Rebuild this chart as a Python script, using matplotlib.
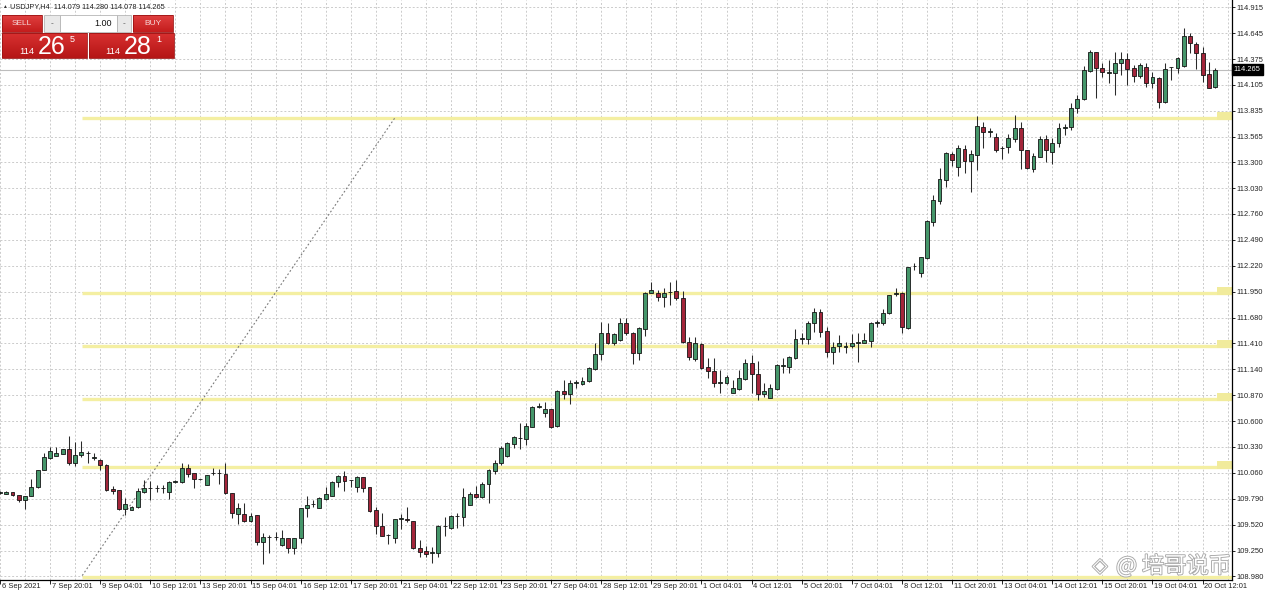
import matplotlib
matplotlib.use("Agg")
import matplotlib.pyplot as plt
import matplotlib.transforms as mtransforms
import matplotlib.patheffects as pe
from matplotlib.patches import Rectangle
import numpy as np

plt.rcParams['font.family'] = ['Liberation Sans', 'DejaVu Sans']

# ---------------- data ----------------
symbol = "USDJPY,H4"
last_ohlc = [114.079, 114.280, 114.078, 114.265]
bid_price = 114.265
ask_price = 114.281
lot_size = "1.00"

opens = [
    109.847, 109.840, 109.860, 109.826, 109.777, 109.819, 109.909, 110.090, 110.215, 110.236,
    110.257, 110.306, 110.160, 110.243, 110.272, 110.215, 110.194, 110.145, 109.888, 109.881,
    109.680, 109.673, 109.701, 109.864, 109.903, 109.906, 109.903, 109.864, 109.968, 109.962,
    110.114, 110.055, 109.993, 109.933, 110.055, 110.058, 110.048, 109.847, 109.631, 109.628,
    109.558, 109.621, 109.342, 109.388, 109.391, 109.308, 109.378, 109.273, 109.378, 109.690,
    109.735, 109.694,
    109.787, 109.819, 109.962, 110.030, 109.986, 109.909, 110.014, 109.909, 109.673, 109.506,
    109.412, 109.384, 109.584, 109.576, 109.558, 109.273, 109.245, 109.228, 109.228, 109.506,
    109.488, 109.610, 109.597, 109.728, 109.840, 109.805, 109.944, 110.083, 110.166, 110.236,
    110.361, 110.420, 110.410, 110.542, 110.750, 110.688, 110.723, 110.549, 110.914, 110.883,
    111.000, 110.984, 111.018, 111.143, 111.297, 111.516, 111.411, 111.446, 111.626, 111.516,
    111.313, 111.557, 111.939, 111.933, 111.897, 111.950, 111.960, 111.887, 111.428, 111.245,
    111.404, 111.161, 111.126, 111.000, 110.994, 110.896, 110.935, 111.039, 111.203, 111.091,
    110.883, 110.844, 110.935, 111.178, 111.161, 111.258, 111.460, 111.453, 111.626, 111.741,
    111.543, 111.324, 111.383, 111.376, 111.383, 111.418, 111.418, 111.439, 111.626, 111.620,
    111.724,
    111.930, 111.939, 111.568, 112.218, 112.141, 112.298, 112.680, 112.899, 113.115, 113.386,
    113.253, 113.438, 113.316, 113.375, 113.671, 113.618, 113.562, 113.445, 113.462, 113.539,
    113.653, 113.427, 113.229, 113.358, 113.539, 113.410, 113.497, 113.660,
    113.666, 113.868, 113.958, 114.250, 114.446, 114.285, 114.233, 114.226, 114.331, 114.376,
    114.285, 114.201, 114.295, 114.122, 114.181, 113.924, 114.289, 114.279, 114.306, 114.619,
    114.529, 114.435, 114.216, 114.079,
]
highs = [
    109.868, 109.868, 109.864, 109.830, 109.823, 109.993, 110.095, 110.264, 110.330, 110.330,
    110.311, 110.448, 110.385, 110.395, 110.285, 110.270, 110.200, 110.150, 109.923, 109.885,
    109.795, 109.712, 109.899, 109.986, 109.975, 109.933, 109.933, 109.972, 109.986, 110.160,
    110.150, 110.060, 110.000, 110.042, 110.108, 110.097, 110.167, 109.851, 109.749, 109.742,
    109.644, 109.625, 109.430, 109.412, 109.447, 109.464, 109.382, 109.382, 109.695, 109.819,
    109.777, 109.808,
    109.916, 109.972, 110.035, 110.079, 109.990, 110.025, 110.020, 109.915, 109.707, 109.644,
    109.423, 109.580, 109.631, 109.707, 109.562, 109.360, 109.301, 109.290, 109.516, 109.603,
    109.621, 109.644, 109.899, 109.857, 109.923, 109.968, 110.097, 110.194, 110.340, 110.385,
    110.445, 110.577, 110.577, 110.755, 110.785, 110.802, 110.727, 110.924, 111.029, 111.029,
    111.029, 111.057, 111.167, 111.418, 111.637, 111.626, 111.516, 111.678, 111.678, 111.532,
    111.578, 111.950, 112.054, 111.967, 111.985, 112.054, 112.072, 111.960, 111.480, 111.480,
    111.418, 111.255, 111.255, 111.133, 111.081, 111.029, 111.133, 111.245, 111.289, 111.230,
    110.994, 110.987, 111.196, 111.255, 111.279, 111.557, 111.516, 111.644, 111.776, 111.766,
    111.578, 111.428, 111.498, 111.428, 111.508, 111.516, 111.522, 111.637, 111.654, 111.766,
    111.920,
    111.985, 111.945, 112.210, 112.246, 112.313, 112.695, 112.958, 113.237, 113.410, 113.410,
    113.479, 113.479, 113.427, 113.782, 113.723, 113.656, 113.609, 113.469, 113.591, 113.792,
    113.723, 113.431, 113.393, 113.573, 113.583, 113.549, 113.705, 113.698,
    113.912, 114.000, 114.306, 114.470, 114.450, 114.331, 114.365, 114.446, 114.446, 114.435,
    114.313, 114.331, 114.331, 114.237, 114.190, 114.331, 114.295, 114.400, 114.696, 114.644,
    114.556, 114.504, 114.347, 114.280,
]
lows = [
    109.843, 109.836, 109.822, 109.753, 109.680, 109.815, 109.905, 110.085, 110.205, 110.232,
    110.252, 110.142, 110.132, 110.226, 110.167, 110.198, 110.090, 109.876, 109.840, 109.675,
    109.621, 109.668, 109.690, 109.847, 109.777, 109.864, 109.847, 109.784, 109.951, 109.958,
    110.020, 109.899, 109.988, 109.929, 110.038, 109.944, 109.843, 109.586, 109.527, 109.551,
    109.551, 109.308, 109.110, 109.222, 109.360, 109.298, 109.228, 109.214, 109.326, 109.603,
    109.701, 109.690,
    109.777, 109.815, 109.909, 109.871, 109.909, 109.864, 109.857, 109.657, 109.423, 109.398,
    109.318, 109.326, 109.471, 109.551, 109.268, 109.186, 109.186, 109.117, 109.186, 109.402,
    109.471, 109.488, 109.506, 109.725, 109.795, 109.795, 109.749, 110.048, 110.142, 110.222,
    110.316, 110.306, 110.351, 110.537, 110.733, 110.646, 110.526, 110.542, 110.827, 110.778,
    110.942, 110.976, 111.005, 111.133, 111.237, 111.404, 111.394, 111.439, 111.498, 111.195,
    111.237, 111.488, 111.933, 111.856, 111.793, 111.811, 111.863, 111.418, 111.237, 111.230,
    111.140, 111.046, 110.959, 110.896, 110.987, 110.890, 110.924, 111.029, 110.896, 110.820,
    110.854, 110.838, 110.924, 111.105, 111.098, 111.245, 111.404, 111.404, 111.532, 111.480,
    111.265, 111.195, 111.324, 111.307, 111.359, 111.219, 111.411, 111.376, 111.585, 111.602,
    111.720,
    111.905, 111.516, 111.560, 112.176, 112.106, 112.292, 112.635, 112.864, 113.038, 113.260,
    113.156, 113.187, 112.993, 113.219, 113.445, 113.562, 113.410, 113.330, 113.393, 113.513,
    113.226, 113.226, 113.201, 113.351, 113.302, 113.281, 113.462, 113.583,
    113.635, 113.809, 113.948, 114.243, 113.972, 114.191, 114.122, 114.000, 114.209, 114.104,
    114.139, 114.174, 114.087, 114.076, 113.868, 113.914, 114.157, 114.226, 114.295, 114.435,
    114.271, 114.139, 114.071, 114.078,
]
closes = [
    109.864, 109.864, 109.826, 109.777, 109.819, 109.916, 110.090, 110.222, 110.284, 110.264,
    110.306, 110.160, 110.249, 110.278, 110.270, 110.222, 110.142, 109.881, 109.874, 109.680,
    109.735, 109.707, 109.871, 109.899, 109.906, 109.903, 109.906, 109.968, 109.971, 110.114,
    110.048, 109.993, 109.996, 110.038, 110.058, 110.055, 109.847, 109.638, 109.690, 109.558,
    109.610, 109.342, 109.394, 109.391, 109.388, 109.378, 109.273, 109.378, 109.690, 109.725,
    109.738, 109.803,
    109.836, 109.968, 110.030, 109.975, 109.983, 110.020, 109.905, 109.662, 109.506, 109.402,
    109.409, 109.576, 109.587, 109.573, 109.273, 109.238, 109.210, 109.231, 109.506, 109.509,
    109.610, 109.613, 109.805, 109.840, 109.805, 109.944, 110.090, 110.166, 110.316, 110.369,
    110.431, 110.423, 110.549, 110.750, 110.753, 110.723, 110.542, 110.917, 110.883, 111.000,
    111.003, 111.018, 111.151, 111.297, 111.516, 111.411, 111.505, 111.626, 111.516, 111.313,
    111.568, 111.939, 111.967, 111.897, 111.939, 111.947, 111.881, 111.428, 111.265, 111.418,
    111.151, 111.126, 111.000, 111.003, 111.063, 110.942, 111.046, 111.203, 111.091, 110.883,
    110.917, 110.942, 111.185, 111.181, 111.265, 111.453, 111.463, 111.626, 111.741, 111.532,
    111.324, 111.376, 111.418, 111.379, 111.411, 111.421, 111.446, 111.620, 111.629, 111.724,
    111.915,
    111.933, 111.585, 112.204, 112.221, 112.308, 112.690, 112.906, 113.122, 113.393, 113.323,
    113.445, 113.316, 113.386, 113.678, 113.618, 113.621, 113.422, 113.448, 113.549, 113.653,
    113.427, 113.237, 113.365, 113.539, 113.422, 113.503, 113.653, 113.663,
    113.870, 113.958, 114.261, 114.452, 114.285, 114.243, 114.236, 114.331, 114.376, 114.271,
    114.201, 114.313, 114.122, 114.191, 113.924, 114.271, 114.292, 114.383, 114.619, 114.540,
    114.435, 114.209, 114.077, 114.265,
]

date_labels = [
    "6 Sep 2021", "7 Sep 20:01", "9 Sep 04:01", "10 Sep 12:01", "13 Sep 20:01",
    "15 Sep 04:01", "16 Sep 12:01", "17 Sep 20:01", "21 Sep 04:01", "22 Sep 12:01",
    "23 Sep 20:01", "27 Sep 04:01", "28 Sep 12:01", "29 Sep 20:01", "1 Oct 04:01",
    "4 Oct 12:01", "5 Oct 20:01", "7 Oct 04:01", "8 Oct 12:01", "11 Oct 20:01",
    "13 Oct 04:01", "14 Oct 12:01", "15 Oct 20:01", "19 Oct 04:01", "20 Oct 12:01",
]
price_ticks = [114.915, 114.645, 114.375, 114.105, 113.835, 113.565, 113.300, 113.030,
               112.760, 112.490, 112.220, 111.950, 111.680, 111.410, 111.140, 110.870,
               110.600, 110.330, 110.060, 109.790, 109.520, 109.250, 108.980]
level_prices = [113.758, 111.939, 111.383, 110.827, 110.118, 108.976]
level_start_bar = 13.1
trend_bars = [13.13, 63.0]
trend_prices = [108.989, 113.758]
current_price = 114.265
watermark = "@ \u57f9\u54e5\u8bf4\u5e01"

# ---------------- figure ----------------
W, H = 1265, 594
fig = plt.figure(figsize=(W / 100, H / 100), dpi=100, facecolor='white')
ax = fig.add_axes([0, 14 / H, 1232 / W, 580 / H])
ax.set_facecolor('white')

o = np.array(opens); hi = np.array(highs); lo = np.array(lows); c = np.array(closes)
n = len(o)
x = np.arange(n)
XMIN, XMAX = 0.38, 196.7
ax.set_xlim(XMIN, XMAX)
ax.set_ylim(108.943, 114.991)

grid_col = '#cbcbcb'
grid_ls = (0, (2, 2))
for xi in range(0, 197, 4):
    ax.axvline(xi, color=grid_col, lw=0.7, ls=grid_ls, zorder=0)
for p in price_ticks:
    ax.axhline(p, color=grid_col, lw=0.7, ls=grid_ls, zorder=0)

# current price line
ax.axhline(current_price, color='#bdbdbd', lw=0.8, zorder=1)

# horizontal levels
ax.hlines(level_prices, level_start_bar, XMAX, color='#f4efa2', lw=2.4, zorder=1)
for p in level_prices[:-1]:
    ax.add_patch(Rectangle((194.3, p - 0.021), XMAX - 194.3, 0.085,
                           facecolor='#f1eb9c', edgecolor='none', zorder=1.5))

# trend line
ax.plot(trend_bars, trend_prices, color='#7a7a7a', lw=0.8, ls=(0, (1.6, 2.0)), zorder=2)

# candles
up = c >= o
cols = np.where(up, '#45966a', '#a3253a')
ax.vlines(x, lo, hi, color='#2a2a2a', lw=0.75, zorder=3)
ax.bar(x, np.maximum(np.abs(c - o), 0.002), bottom=np.minimum(o, c), width=0.62,
       color=cols, edgecolor='#151515', linewidth=0.6, zorder=4)

# axes styling
for s in ['left', 'top']:
    ax.spines[s].set_visible(False)
ax.spines['right'].set_color('black'); ax.spines['right'].set_linewidth(0.9)
ax.spines['bottom'].set_color('black'); ax.spines['bottom'].set_linewidth(0.9)

ax.yaxis.tick_right()
ax.set_yticks(price_ticks)
ax.set_yticklabels([f"{p:.3f}" for p in price_ticks], fontsize=5.4, color='#222222')
ax.tick_params(axis='y', length=2.2, width=0.6, pad=1.0)

label_bars = list(range(0, 8 * len(date_labels), 8))
ax.set_xticks(label_bars)
ax.set_xticklabels([])
ax.tick_params(axis='x', length=3, width=0.6, direction='out')
trans = mtransforms.blended_transform_factory(ax.transData, ax.transAxes)
for b, lab in zip(label_bars, date_labels):
    ax.text(b + 0.3, -0.0115, lab, transform=trans, ha='left', va='center',
            fontsize=5.4, color='#222222')

# current price marker on axis
ax.text(1.0015, current_price, f"{current_price:.3f}",
        transform=mtransforms.blended_transform_factory(ax.transAxes, ax.transData),
        ha='left', va='center', fontsize=5.4, color='white',
        bbox=dict(boxstyle='square,pad=0.25', fc='black', ec='black'), zorder=10)

# ---------------- overlay (pixel coordinates) ----------------
ov = fig.add_axes([0, 0, 1, 1], zorder=20)
ov.set_xlim(0, W); ov.set_ylim(H, 0); ov.axis('off')

ov.text(2, 7, "\u25b2", fontsize=3.5, color='#333333', va='center', ha='left')
ov.text(10, 7, f"{symbol}  " + " ".join(f"{v:.3f}" for v in last_ohlc),
        fontsize=5.3, color='#222222', va='center', ha='left')

def grad_box(x0, y0, w, h, top, bot):
    g = np.linspace(0, 1, 32)[:, None]
    t = np.array(matplotlib.colors.to_rgb(top)); b = np.array(matplotlib.colors.to_rgb(bot))
    img = (t[None, None, :] * (1 - g[..., None]) + b[None, None, :] * g[..., None])
    ov.imshow(img, extent=(x0, x0 + w, y0 + h, y0), aspect='auto', zorder=21, interpolation='bilinear')
    ov.add_patch(Rectangle((x0, y0), w, h, fill=False, edgecolor='#9c1414', lw=0.6, zorder=22))

grad_box(2, 15, 40, 17, '#e04040', '#c41d1d')
grad_box(133, 15, 40, 17, '#e04040', '#c41d1d')
ov.add_patch(Rectangle((44, 15), 16, 17, facecolor='#e9e9e9', edgecolor='#b5b5b5', lw=0.6, zorder=21))
ov.add_patch(Rectangle((60, 15), 57, 17, facecolor='white', edgecolor='#b5b5b5', lw=0.6, zorder=21))
ov.add_patch(Rectangle((117, 15), 14, 17, facecolor='#e9e9e9', edgecolor='#b5b5b5', lw=0.6, zorder=21))
ov.text(22, 23.5, "SELL", fontsize=6, color='#f6d6d6', ha='center', va='center', zorder=23)
ov.text(153, 23.5, "BUY", fontsize=6, color='#f6d6d6', ha='center', va='center', zorder=23)
ov.text(52, 23.5, "-", fontsize=6, color='#555555', ha='center', va='center', zorder=23)
ov.text(124, 23.5, "-", fontsize=6, color='#555555', ha='center', va='center', zorder=23)
ov.text(112, 23.5, lot_size, fontsize=6.5, color='#111111', ha='right', va='center', zorder=23)

grad_box(2, 33, 85, 25, '#d83030', '#b51616')
grad_box(88.5, 33, 85, 25, '#d83030', '#b51616')

def price_parts(p):
    s = f"{p:.3f}"
    big, frac = s.split('.')
    return big, frac[:2], frac[2]

for p, x0 in [(bid_price, 19), (ask_price, 105)]:
    a, b, d = price_parts(p)
    ov.text(x0, 54, a, fontsize=6.7, color='white', ha='left', va='baseline', zorder=23)
    ov.text(x0 + 19, 54.5, b, fontsize=18, color='white', ha='left', va='baseline', zorder=23)
    ov.text(x0 + 51, 42, d, fontsize=6.5, color='white', ha='left', va='baseline', zorder=23)
ov.set_xlim(0, W); ov.set_ylim(H, 0)

# watermark
wm_fx = [pe.withStroke(linewidth=1.3, foreground='#a8a8a8')]
ov.text(1100, 566, "\u25c8", fontsize=14, color='white', ha='center', va='center',
        family=['DejaVu Sans'], path_effects=wm_fx, zorder=24)
ov.text(1116, 566, watermark, fontsize=16, color='white', ha='left', va='center',
        family=['Noto Sans CJK SC', 'DejaVu Sans'], path_effects=wm_fx, zorder=24)

fig.savefig("out.png", dpi=100, facecolor='white')
